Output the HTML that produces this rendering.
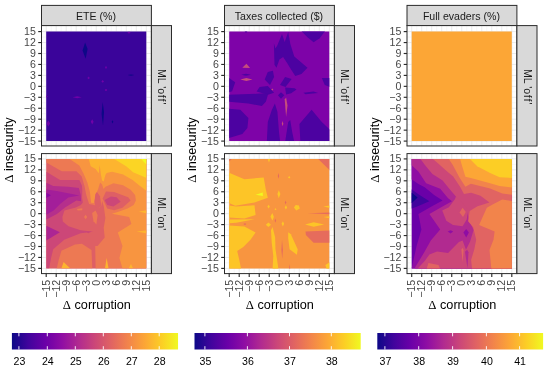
<!DOCTYPE html>
<html><head><meta charset="utf-8"><title>Contour panels</title>
<style>html,body{margin:0;padding:0;background:#fff}svg{display:block}</style></head>
<body>
<svg width="550" height="371" viewBox="0 0 550 371" font-family="'Liberation Sans', Arial, sans-serif">
<defs><linearGradient id="pl" x1="0" x2="1" y1="0" y2="0">
<stop offset="0" stop-color="#0D0887"/>
<stop offset="0.05" stop-color="#270692"/>
<stop offset="0.1" stop-color="#41049D"/>
<stop offset="0.15" stop-color="#5602A2"/>
<stop offset="0.2" stop-color="#6A00A8"/>
<stop offset="0.25" stop-color="#7C06A6"/>
<stop offset="0.3" stop-color="#8F0DA4"/>
<stop offset="0.35" stop-color="#A01B9A"/>
<stop offset="0.4" stop-color="#B12A90"/>
<stop offset="0.45" stop-color="#BE3884"/>
<stop offset="0.5" stop-color="#CC4778"/>
<stop offset="0.55" stop-color="#D6566D"/>
<stop offset="0.6" stop-color="#E16462"/>
<stop offset="0.65" stop-color="#EA7456"/>
<stop offset="0.7" stop-color="#F2844B"/>
<stop offset="0.75" stop-color="#F79540"/>
<stop offset="0.8" stop-color="#FCA636"/>
<stop offset="0.85" stop-color="#FCBA2E"/>
<stop offset="0.9" stop-color="#FCCE25"/>
<stop offset="0.95" stop-color="#F6E323"/>
<stop offset="1" stop-color="#F0F921"/>
</linearGradient></defs>
<rect width="550" height="371" fill="#fff"/>
<g transform="translate(0.00,0)">
<rect x="41.50" y="5.40" width="109.90" height="20.20" fill="#D9D9D9" stroke="#2B2B2B" stroke-width="1"/>
<text x="95.95" y="19.80" font-size="10.6" fill="#1A1A1A" text-anchor="middle">ETE (%)</text>
<rect x="41.50" y="25.60" width="109.90" height="120.40" fill="#fff"/>
<path d="M46.20 25.60V146.00 M41.50 31.60H151.40" stroke="#E3E3E3" stroke-width="0.7" fill="none"/><path d="M51.21 25.60V146.00 M41.50 37.08H151.40" stroke="#EDEDED" stroke-width="0.45" fill="none"/><path d="M56.21 25.60V146.00 M41.50 42.55H151.40" stroke="#E3E3E3" stroke-width="0.7" fill="none"/><path d="M61.22 25.60V146.00 M41.50 48.03H151.40" stroke="#EDEDED" stroke-width="0.45" fill="none"/><path d="M66.22 25.60V146.00 M41.50 53.50H151.40" stroke="#E3E3E3" stroke-width="0.7" fill="none"/><path d="M71.23 25.60V146.00 M41.50 58.98H151.40" stroke="#EDEDED" stroke-width="0.45" fill="none"/><path d="M76.23 25.60V146.00 M41.50 64.45H151.40" stroke="#E3E3E3" stroke-width="0.7" fill="none"/><path d="M81.24 25.60V146.00 M41.50 69.93H151.40" stroke="#EDEDED" stroke-width="0.45" fill="none"/><path d="M86.24 25.60V146.00 M41.50 75.40H151.40" stroke="#E3E3E3" stroke-width="0.7" fill="none"/><path d="M91.25 25.60V146.00 M41.50 80.88H151.40" stroke="#EDEDED" stroke-width="0.45" fill="none"/><path d="M96.25 25.60V146.00 M41.50 86.35H151.40" stroke="#E3E3E3" stroke-width="0.7" fill="none"/><path d="M101.26 25.60V146.00 M41.50 91.83H151.40" stroke="#EDEDED" stroke-width="0.45" fill="none"/><path d="M106.26 25.60V146.00 M41.50 97.30H151.40" stroke="#E3E3E3" stroke-width="0.7" fill="none"/><path d="M111.27 25.60V146.00 M41.50 102.78H151.40" stroke="#EDEDED" stroke-width="0.45" fill="none"/><path d="M116.27 25.60V146.00 M41.50 108.25H151.40" stroke="#E3E3E3" stroke-width="0.7" fill="none"/><path d="M121.28 25.60V146.00 M41.50 113.72H151.40" stroke="#EDEDED" stroke-width="0.45" fill="none"/><path d="M126.28 25.60V146.00 M41.50 119.20H151.40" stroke="#E3E3E3" stroke-width="0.7" fill="none"/><path d="M131.29 25.60V146.00 M41.50 124.68H151.40" stroke="#EDEDED" stroke-width="0.45" fill="none"/><path d="M136.29 25.60V146.00 M41.50 130.15H151.40" stroke="#E3E3E3" stroke-width="0.7" fill="none"/><path d="M141.30 25.60V146.00 M41.50 135.62H151.40" stroke="#EDEDED" stroke-width="0.45" fill="none"/><path d="M146.30 25.60V146.00 M41.50 141.10H151.40" stroke="#E3E3E3" stroke-width="0.7" fill="none"/>
<clipPath id="c00"><rect x="46.20" y="31.60" width="100.10" height="109.50"/></clipPath>
<g clip-path="url(#c00)">
<rect x="45.20" y="30.60" width="102.10" height="111.50" fill="#3A049A"/>
<path d="M85.1 42.5L87.6 49.0L85.6 58.8L82.6 50.5Z" fill="#0D0887"/>
<path d="M102.7 102.0L104.0 112.0L103.0 125.5L101.6 114.0Z" fill="#0D0887"/>
<path d="M127.6 75.1L131.0 74.4L134.4 75.1L131.0 75.8Z" fill="#0D0887"/>
<path d="M111.7 121.8L112.5 120.2L113.3 121.8L112.5 123.4Z" fill="#0D0887"/>
<path d="M127.4 32.6L129.0 31.4L130.6 32.6L129.0 33.8Z" fill="#7002A8"/>
<path d="M72.6 97.2L77.2 96.2L81.8 97.2L77.2 98.2Z" fill="#7002A8"/>
<path d="M46.5 123.5L48.3 120.5L50.1 123.5L48.3 126.5Z" fill="#7002A8"/>
<path d="M45.4 96.5L46.6 95.5L47.8 96.5L46.6 97.5Z" fill="#7002A8"/>
<path d="M90.8 121.8L92.2 119.2L93.6 121.8L92.2 124.4Z" fill="#7002A8"/>
<path d="M87.3 77.9L88.6 76.6L89.9 77.9L88.6 79.2Z" fill="#7002A8"/>
<path d="M101.4 81.4L102.7 80.1L104.0 81.4L102.7 82.7Z" fill="#7002A8"/>
<path d="M104.6 90.0L106.0 88.8L107.4 90.0L106.0 91.2Z" fill="#7002A8"/>
<path d="M105.0 67.4L106.0 65.8L107.0 67.4L106.0 69.0Z" fill="#7002A8"/>
</g>
<rect x="41.50" y="25.60" width="109.90" height="120.40" fill="none" stroke="#2B2B2B" stroke-width="1"/>
<rect x="151.40" y="25.60" width="20.10" height="120.40" fill="#D9D9D9" stroke="#2B2B2B" stroke-width="1"/>
<text transform="translate(158.05,69.00) rotate(90)" font-size="10.6" fill="#1A1A1A">ML 'o<tspan dx="0.5">f</tspan><tspan dx="1.1">f</tspan><tspan dx="1.1">'</tspan></text>
<path d="M38.20 31.60H41.50" stroke="#2B2B2B" stroke-width="1.15"/>
<text x="35.90" y="35.00" font-size="10.6" fill="#474747" text-anchor="end">15</text>
<path d="M38.20 42.55H41.50" stroke="#2B2B2B" stroke-width="1.15"/>
<text x="35.90" y="45.95" font-size="10.6" fill="#474747" text-anchor="end">12</text>
<path d="M38.20 53.50H41.50" stroke="#2B2B2B" stroke-width="1.15"/>
<text x="35.90" y="56.90" font-size="10.6" fill="#474747" text-anchor="end">9</text>
<path d="M38.20 64.45H41.50" stroke="#2B2B2B" stroke-width="1.15"/>
<text x="35.90" y="67.85" font-size="10.6" fill="#474747" text-anchor="end">6</text>
<path d="M38.20 75.40H41.50" stroke="#2B2B2B" stroke-width="1.15"/>
<text x="35.90" y="78.80" font-size="10.6" fill="#474747" text-anchor="end">3</text>
<path d="M38.20 86.35H41.50" stroke="#2B2B2B" stroke-width="1.15"/>
<text x="35.90" y="89.75" font-size="10.6" fill="#474747" text-anchor="end">0</text>
<path d="M38.20 97.30H41.50" stroke="#2B2B2B" stroke-width="1.15"/>
<text x="35.90" y="100.70" font-size="10.6" fill="#474747" text-anchor="end">−3</text>
<path d="M38.20 108.25H41.50" stroke="#2B2B2B" stroke-width="1.15"/>
<text x="35.90" y="111.65" font-size="10.6" fill="#474747" text-anchor="end">−6</text>
<path d="M38.20 119.20H41.50" stroke="#2B2B2B" stroke-width="1.15"/>
<text x="35.90" y="122.60" font-size="10.6" fill="#474747" text-anchor="end">−9</text>
<path d="M38.20 130.15H41.50" stroke="#2B2B2B" stroke-width="1.15"/>
<text x="35.90" y="133.55" font-size="10.6" fill="#474747" text-anchor="end">−12</text>
<path d="M38.20 141.10H41.50" stroke="#2B2B2B" stroke-width="1.15"/>
<text x="35.90" y="144.50" font-size="10.6" fill="#474747" text-anchor="end">−15</text>
<rect x="41.50" y="153.60" width="109.90" height="120.00" fill="#fff"/>
<path d="M46.20 153.60V273.60 M41.50 158.90H151.40" stroke="#E3E3E3" stroke-width="0.7" fill="none"/><path d="M51.21 153.60V273.60 M41.50 164.38H151.40" stroke="#EDEDED" stroke-width="0.45" fill="none"/><path d="M56.21 153.60V273.60 M41.50 169.85H151.40" stroke="#E3E3E3" stroke-width="0.7" fill="none"/><path d="M61.22 153.60V273.60 M41.50 175.32H151.40" stroke="#EDEDED" stroke-width="0.45" fill="none"/><path d="M66.22 153.60V273.60 M41.50 180.80H151.40" stroke="#E3E3E3" stroke-width="0.7" fill="none"/><path d="M71.23 153.60V273.60 M41.50 186.28H151.40" stroke="#EDEDED" stroke-width="0.45" fill="none"/><path d="M76.23 153.60V273.60 M41.50 191.75H151.40" stroke="#E3E3E3" stroke-width="0.7" fill="none"/><path d="M81.24 153.60V273.60 M41.50 197.22H151.40" stroke="#EDEDED" stroke-width="0.45" fill="none"/><path d="M86.24 153.60V273.60 M41.50 202.70H151.40" stroke="#E3E3E3" stroke-width="0.7" fill="none"/><path d="M91.25 153.60V273.60 M41.50 208.18H151.40" stroke="#EDEDED" stroke-width="0.45" fill="none"/><path d="M96.25 153.60V273.60 M41.50 213.65H151.40" stroke="#E3E3E3" stroke-width="0.7" fill="none"/><path d="M101.26 153.60V273.60 M41.50 219.12H151.40" stroke="#EDEDED" stroke-width="0.45" fill="none"/><path d="M106.26 153.60V273.60 M41.50 224.60H151.40" stroke="#E3E3E3" stroke-width="0.7" fill="none"/><path d="M111.27 153.60V273.60 M41.50 230.07H151.40" stroke="#EDEDED" stroke-width="0.45" fill="none"/><path d="M116.27 153.60V273.60 M41.50 235.55H151.40" stroke="#E3E3E3" stroke-width="0.7" fill="none"/><path d="M121.28 153.60V273.60 M41.50 241.02H151.40" stroke="#EDEDED" stroke-width="0.45" fill="none"/><path d="M126.28 153.60V273.60 M41.50 246.50H151.40" stroke="#E3E3E3" stroke-width="0.7" fill="none"/><path d="M131.29 153.60V273.60 M41.50 251.97H151.40" stroke="#EDEDED" stroke-width="0.45" fill="none"/><path d="M136.29 153.60V273.60 M41.50 257.45H151.40" stroke="#E3E3E3" stroke-width="0.7" fill="none"/><path d="M141.30 153.60V273.60 M41.50 262.92H151.40" stroke="#EDEDED" stroke-width="0.45" fill="none"/><path d="M146.30 153.60V273.60 M41.50 268.40H151.40" stroke="#E3E3E3" stroke-width="0.7" fill="none"/>
<clipPath id="c01"><rect x="46.20" y="158.90" width="100.10" height="109.50"/></clipPath>
<g clip-path="url(#c01)">
<rect x="45.20" y="157.90" width="102.10" height="111.50" fill="#DE5F65"/>
<path d="M46.3 171.7L60.1 179.9L79.3 179.9L81.9 185.4L82.3 190.7L82.1 197.8L82.8 202.5L80.9 204.9L75.8 207.4L64.4 210.6L62.4 217.1L62.8 221.4L68.5 226.3L80.7 230.2L93.1 231.8L80.7 233.2L64.2 239.7L58.7 244.6L53.2 249.3L51.2 257.5L49.1 268.5L46.3 268.5Z" fill="#CC4778"/>
<path d="M46.3 182.7L53.2 186.0L68.3 186.8L78.9 188.0L80.7 194.9L81.1 201.3L76.4 200.4L65.0 207.4L56.9 213.9L46.3 219.4Z" fill="#B52F8C"/>
<path d="M46.3 189.6L56.7 191.1L79.3 195.5L68.3 197.6L60.1 204.1L53.6 210.6L46.3 214.7Z" fill="#A31E9A"/>
<path d="M46.3 225.7L59.9 232.2L46.3 240.6Z" fill="#AC2694"/>
<path d="M46.3 192.7L50.8 195.3L46.3 198.0Z" fill="#8808A6"/>
<path d="M85.6 231.2L91.1 231.6L88.3 233.2Z" fill="#CC4778"/>
<path d="M46.3 158.9L146.7 158.9L146.7 268.5L95.6 268.5L95.2 246.1L97.6 246.1L104.7 237.5L103.7 227.7L105.4 218.0L103.7 205.9L102.1 200.8L101.5 205.9L98.6 208.2L94.4 204.9L89.1 204.1L86.2 194.7L84.6 186.4L81.7 176.6L76.4 171.3L61.8 171.3L46.3 162.6Z" fill="#ED7953"/>
<path d="M56.7 268.5L58.7 260.1L61.4 250.7L75.0 244.6L81.9 243.8L91.5 249.9L92.3 268.5Z" fill="#ED7953"/>
<path d="M84.0 216.9L85.6 214.7L87.2 216.9L85.6 219.2Z" fill="#ED7953"/>
<path d="M92.1 213.1L95.6 210.4L97.6 215.1L96.4 224.5L93.5 221.2Z" fill="#ED7953"/>
<path d="M77.0 209.0L82.3 208.2L82.3 210.2L77.7 210.6Z" fill="#ED7953"/>
<path d="M69.5 158.9L146.7 158.9L146.7 268.5L122.5 268.5L119.4 258.1L122.5 245.9L117.8 232.6L131.4 224.1L129.2 216.9L111.9 213.7L118.4 211.8L127.6 208.6L133.7 204.9L135.9 200.4L135.1 194.9L130.6 189.8L123.1 185.2L113.5 183.3L105.4 186.8L103.5 189.0L102.1 184.5L100.1 182.5L98.0 189.6L95.6 194.7L94.4 202.9L91.1 202.7L89.9 191.9L87.4 182.5L83.4 173.3L79.3 165.6Z" fill="#F89540"/>
<path d="M94.4 201.7L95.4 193.9L97.0 191.9L99.9 196.2L101.5 205.9L98.6 208.2L95.4 207.2Z" fill="#DE5F65"/>
<path d="M102.7 198.4L106.0 191.5L114.1 192.1L128.2 197.2L130.6 200.4L122.5 207.8L114.1 210.2L107.2 208.6Z" fill="#DE5F65"/>
<path d="M104.7 200.0L110.9 196.4L116.6 197.2L120.6 201.7L113.3 206.5L107.2 204.9Z" fill="#CC4778"/>
<path d="M88.7 158.9L90.7 166.2L95.6 169.1L97.6 171.7L98.8 173.3L99.7 165.0L100.9 174.4L102.1 180.5L103.7 181.5L105.4 175.0L106.6 173.1L112.1 171.7L123.1 174.4L132.6 179.9L139.4 185.4L146.7 191.1L146.7 158.9Z" fill="#FDB42F"/>
<path d="M146.7 210.2L138.8 211.6L146.7 213.5Z" fill="#FDB42F"/>
<path d="M146.7 230.2L136.7 231.6L146.7 233.4Z" fill="#FDB42F"/>
<path d="M61.4 268.5L63.6 262.1L70.3 268.5Z" fill="#FDB42F"/>
<path d="M105.0 268.5L106.6 257.9L108.6 268.5Z" fill="#FDB42F"/>
<path d="M128.6 268.5L131.0 264.0L133.1 268.5Z" fill="#FDB42F"/>
<path d="M114.1 158.9L126.5 166.6L133.1 172.3L146.7 178.0L146.7 158.9Z" fill="#FBD524"/>
<path d="M141.2 158.9L146.7 158.9L146.7 165.0Z" fill="#F0F921"/>
</g>
<rect x="41.50" y="153.60" width="109.90" height="120.00" fill="none" stroke="#2B2B2B" stroke-width="1"/>
<rect x="151.40" y="153.60" width="20.10" height="120.00" fill="#D9D9D9" stroke="#2B2B2B" stroke-width="1"/>
<text transform="translate(158.05,213.70) rotate(90)" font-size="10.6" fill="#1A1A1A" text-anchor="middle">ML 'on'</text>
<path d="M38.20 158.90H41.50" stroke="#2B2B2B" stroke-width="1.15"/>
<text x="35.90" y="162.30" font-size="10.6" fill="#474747" text-anchor="end">15</text>
<path d="M38.20 169.85H41.50" stroke="#2B2B2B" stroke-width="1.15"/>
<text x="35.90" y="173.25" font-size="10.6" fill="#474747" text-anchor="end">12</text>
<path d="M38.20 180.80H41.50" stroke="#2B2B2B" stroke-width="1.15"/>
<text x="35.90" y="184.20" font-size="10.6" fill="#474747" text-anchor="end">9</text>
<path d="M38.20 191.75H41.50" stroke="#2B2B2B" stroke-width="1.15"/>
<text x="35.90" y="195.15" font-size="10.6" fill="#474747" text-anchor="end">6</text>
<path d="M38.20 202.70H41.50" stroke="#2B2B2B" stroke-width="1.15"/>
<text x="35.90" y="206.10" font-size="10.6" fill="#474747" text-anchor="end">3</text>
<path d="M38.20 213.65H41.50" stroke="#2B2B2B" stroke-width="1.15"/>
<text x="35.90" y="217.05" font-size="10.6" fill="#474747" text-anchor="end">0</text>
<path d="M38.20 224.60H41.50" stroke="#2B2B2B" stroke-width="1.15"/>
<text x="35.90" y="228.00" font-size="10.6" fill="#474747" text-anchor="end">−3</text>
<path d="M38.20 235.55H41.50" stroke="#2B2B2B" stroke-width="1.15"/>
<text x="35.90" y="238.95" font-size="10.6" fill="#474747" text-anchor="end">−6</text>
<path d="M38.20 246.50H41.50" stroke="#2B2B2B" stroke-width="1.15"/>
<text x="35.90" y="249.90" font-size="10.6" fill="#474747" text-anchor="end">−9</text>
<path d="M38.20 257.45H41.50" stroke="#2B2B2B" stroke-width="1.15"/>
<text x="35.90" y="260.85" font-size="10.6" fill="#474747" text-anchor="end">−12</text>
<path d="M38.20 268.40H41.50" stroke="#2B2B2B" stroke-width="1.15"/>
<text x="35.90" y="271.80" font-size="10.6" fill="#474747" text-anchor="end">−15</text>
<path d="M46.20 273.60V277.10" stroke="#2B2B2B" stroke-width="1.15"/>
<text transform="translate(49.60,279.80) rotate(-90)" font-size="10.6" fill="#474747" text-anchor="end">−15</text>
<path d="M56.21 273.60V277.10" stroke="#2B2B2B" stroke-width="1.15"/>
<text transform="translate(59.61,279.80) rotate(-90)" font-size="10.6" fill="#474747" text-anchor="end">−12</text>
<path d="M66.22 273.60V277.10" stroke="#2B2B2B" stroke-width="1.15"/>
<text transform="translate(69.62,279.80) rotate(-90)" font-size="10.6" fill="#474747" text-anchor="end">−9</text>
<path d="M76.23 273.60V277.10" stroke="#2B2B2B" stroke-width="1.15"/>
<text transform="translate(79.63,279.80) rotate(-90)" font-size="10.6" fill="#474747" text-anchor="end">−6</text>
<path d="M86.24 273.60V277.10" stroke="#2B2B2B" stroke-width="1.15"/>
<text transform="translate(89.64,279.80) rotate(-90)" font-size="10.6" fill="#474747" text-anchor="end">−3</text>
<path d="M96.25 273.60V277.10" stroke="#2B2B2B" stroke-width="1.15"/>
<text transform="translate(99.65,279.80) rotate(-90)" font-size="10.6" fill="#474747" text-anchor="end">0</text>
<path d="M106.26 273.60V277.10" stroke="#2B2B2B" stroke-width="1.15"/>
<text transform="translate(109.66,279.80) rotate(-90)" font-size="10.6" fill="#474747" text-anchor="end">3</text>
<path d="M116.27 273.60V277.10" stroke="#2B2B2B" stroke-width="1.15"/>
<text transform="translate(119.67,279.80) rotate(-90)" font-size="10.6" fill="#474747" text-anchor="end">6</text>
<path d="M126.28 273.60V277.10" stroke="#2B2B2B" stroke-width="1.15"/>
<text transform="translate(129.68,279.80) rotate(-90)" font-size="10.6" fill="#474747" text-anchor="end">9</text>
<path d="M136.29 273.60V277.10" stroke="#2B2B2B" stroke-width="1.15"/>
<text transform="translate(139.69,279.80) rotate(-90)" font-size="10.6" fill="#474747" text-anchor="end">12</text>
<path d="M146.30 273.60V277.10" stroke="#2B2B2B" stroke-width="1.15"/>
<text transform="translate(149.70,279.80) rotate(-90)" font-size="10.6" fill="#474747" text-anchor="end">15</text>
<text x="96.85" y="308.50" font-size="12.7" fill="#000" text-anchor="middle"><tspan font-family="'Liberation Serif', serif">Δ</tspan> corruption</text>
<text transform="translate(13.20,150.10) rotate(-90)" font-size="12.7" fill="#000" text-anchor="middle"><tspan font-family="'Liberation Serif', serif">Δ</tspan> insecurity</text>
<rect x="11.90" y="333.0" width="166.15" height="16.5" fill="url(#pl)"/>
<path d="M18.90 333V336.3M18.90 346.2V349.5" stroke="#fff" stroke-width="0.9"/>
<text x="19.40" y="365.2" font-size="10.6" fill="#000" text-anchor="middle">23</text>
<path d="M47.30 333V336.3M47.30 346.2V349.5" stroke="#fff" stroke-width="0.9"/>
<text x="47.80" y="365.2" font-size="10.6" fill="#000" text-anchor="middle">24</text>
<path d="M75.30 333V336.3M75.30 346.2V349.5" stroke="#fff" stroke-width="0.9"/>
<text x="75.80" y="365.2" font-size="10.6" fill="#000" text-anchor="middle">25</text>
<path d="M103.30 333V336.3M103.30 346.2V349.5" stroke="#fff" stroke-width="0.9"/>
<text x="103.80" y="365.2" font-size="10.6" fill="#000" text-anchor="middle">26</text>
<path d="M131.30 333V336.3M131.30 346.2V349.5" stroke="#fff" stroke-width="0.9"/>
<text x="131.80" y="365.2" font-size="10.6" fill="#000" text-anchor="middle">27</text>
<path d="M159.20 333V336.3M159.20 346.2V349.5" stroke="#fff" stroke-width="0.9"/>
<text x="159.70" y="365.2" font-size="10.6" fill="#000" text-anchor="middle">28</text>
</g>
<g transform="translate(183.00,0)">
<rect x="41.50" y="5.40" width="109.90" height="20.20" fill="#D9D9D9" stroke="#2B2B2B" stroke-width="1"/>
<text x="95.95" y="19.80" font-size="10.6" fill="#1A1A1A" text-anchor="middle">Taxes collected ($)</text>
<rect x="41.50" y="25.60" width="109.90" height="120.40" fill="#fff"/>
<path d="M46.20 25.60V146.00 M41.50 31.60H151.40" stroke="#E3E3E3" stroke-width="0.7" fill="none"/><path d="M51.21 25.60V146.00 M41.50 37.08H151.40" stroke="#EDEDED" stroke-width="0.45" fill="none"/><path d="M56.21 25.60V146.00 M41.50 42.55H151.40" stroke="#E3E3E3" stroke-width="0.7" fill="none"/><path d="M61.22 25.60V146.00 M41.50 48.03H151.40" stroke="#EDEDED" stroke-width="0.45" fill="none"/><path d="M66.22 25.60V146.00 M41.50 53.50H151.40" stroke="#E3E3E3" stroke-width="0.7" fill="none"/><path d="M71.23 25.60V146.00 M41.50 58.98H151.40" stroke="#EDEDED" stroke-width="0.45" fill="none"/><path d="M76.23 25.60V146.00 M41.50 64.45H151.40" stroke="#E3E3E3" stroke-width="0.7" fill="none"/><path d="M81.24 25.60V146.00 M41.50 69.93H151.40" stroke="#EDEDED" stroke-width="0.45" fill="none"/><path d="M86.24 25.60V146.00 M41.50 75.40H151.40" stroke="#E3E3E3" stroke-width="0.7" fill="none"/><path d="M91.25 25.60V146.00 M41.50 80.88H151.40" stroke="#EDEDED" stroke-width="0.45" fill="none"/><path d="M96.25 25.60V146.00 M41.50 86.35H151.40" stroke="#E3E3E3" stroke-width="0.7" fill="none"/><path d="M101.26 25.60V146.00 M41.50 91.83H151.40" stroke="#EDEDED" stroke-width="0.45" fill="none"/><path d="M106.26 25.60V146.00 M41.50 97.30H151.40" stroke="#E3E3E3" stroke-width="0.7" fill="none"/><path d="M111.27 25.60V146.00 M41.50 102.78H151.40" stroke="#EDEDED" stroke-width="0.45" fill="none"/><path d="M116.27 25.60V146.00 M41.50 108.25H151.40" stroke="#E3E3E3" stroke-width="0.7" fill="none"/><path d="M121.28 25.60V146.00 M41.50 113.72H151.40" stroke="#EDEDED" stroke-width="0.45" fill="none"/><path d="M126.28 25.60V146.00 M41.50 119.20H151.40" stroke="#E3E3E3" stroke-width="0.7" fill="none"/><path d="M131.29 25.60V146.00 M41.50 124.68H151.40" stroke="#EDEDED" stroke-width="0.45" fill="none"/><path d="M136.29 25.60V146.00 M41.50 130.15H151.40" stroke="#E3E3E3" stroke-width="0.7" fill="none"/><path d="M141.30 25.60V146.00 M41.50 135.62H151.40" stroke="#EDEDED" stroke-width="0.45" fill="none"/><path d="M146.30 25.60V146.00 M41.50 141.10H151.40" stroke="#E3E3E3" stroke-width="0.7" fill="none"/>
<clipPath id="c10"><rect x="46.20" y="31.60" width="100.10" height="109.50"/></clipPath>
<g clip-path="url(#c10)">
<rect x="45.20" y="30.60" width="102.10" height="111.50" fill="#7E03A8"/>
<path d="M117.4 30.1L142.8 30.1L136.7 38.2L130.6 42.3L124.5 37.2Z" fill="#4C02A1"/>
<path d="M61.0 30.1L65.0 30.1L63.0 33.3Z" fill="#4C02A1"/>
<path d="M90.9 43.3L92.5 48.4L94.4 45.3L99.0 34.1L101.7 41.9L105.2 32.1L107.4 44.3L111.3 56.5L124.5 67.8L118.4 73.9L112.3 75.9L108.2 69.8L104.1 63.1L100.1 57.0L96.4 59.6L93.5 67.8L91.5 64.7Z" fill="#4C02A1"/>
<path d="M84.8 72.0L89.9 70.8L91.1 76.9L87.0 85.1L81.7 79.4Z" fill="#4C02A1"/>
<path d="M45.1 77.3L46.1 77.9L52.2 82.2L49.1 91.2L45.1 92.4Z" fill="#4C02A1"/>
<path d="M58.3 74.7L63.0 73.7L67.9 74.7L63.0 75.7Z" fill="#4C02A1"/>
<path d="M102.1 76.9L108.6 79.0L102.5 87.1L97.0 85.1Z" fill="#4C02A1"/>
<path d="M73.6 91.6L76.6 87.1L84.8 86.1L91.1 92.8L85.0 94.8Z" fill="#4C02A1"/>
<path d="M138.8 77.9L147.3 77.9L147.3 87.1L141.8 85.1Z" fill="#4C02A1"/>
<path d="M120.4 92.8L130.6 91.6L135.1 93.0L122.5 94.2Z" fill="#4C02A1"/>
<path d="M102.1 87.5L111.5 88.3L113.5 89.5L108.2 93.2L103.1 94.4Z" fill="#4C02A1"/>
<path d="M95.0 95.2L98.0 92.2L101.3 95.2L98.0 98.7Z" fill="#4C02A1"/>
<path d="M45.1 94.8L73.6 93.8L85.4 93.0L83.0 101.6L78.9 106.0L65.4 103.6L45.1 101.6Z" fill="#4C02A1"/>
<path d="M45.1 108.7L57.3 109.7L65.4 117.9L64.4 128.0L59.3 134.1L45.1 138.2Z" fill="#4C02A1"/>
<path d="M83.8 142.1L84.8 121.9L88.9 109.7L91.9 103.6L94.4 111.7L96.0 132.1L97.2 142.1Z" fill="#4C02A1"/>
<path d="M102.1 142.1L105.2 121.9L107.2 119.9L109.2 132.1L111.3 142.1Z" fill="#4C02A1"/>
<path d="M117.4 142.1L116.4 124.0L128.6 109.7L138.8 121.9L147.3 130.1L147.3 142.1Z" fill="#4C02A1"/>
<path d="M59.3 67.8L63.4 63.7L67.1 68.0Z" fill="#C54E7C"/>
<path d="M57.3 79.4L63.4 77.9L69.5 79.4L63.4 81.0Z" fill="#C54E7C"/>
<path d="M88.3 89.5L89.3 88.5L90.3 89.5L89.3 90.6Z" fill="#C54E7C"/>
<path d="M101.7 99.5L103.1 97.5L104.5 105.6L103.1 116.8Z" fill="#C54E7C"/>
<path d="M98.8 123.8L99.7 120.9L100.3 123.8L99.7 126.2Z" fill="#C54E7C"/>
</g>
<rect x="41.50" y="25.60" width="109.90" height="120.40" fill="none" stroke="#2B2B2B" stroke-width="1"/>
<rect x="151.40" y="25.60" width="20.10" height="120.40" fill="#D9D9D9" stroke="#2B2B2B" stroke-width="1"/>
<text transform="translate(158.05,69.00) rotate(90)" font-size="10.6" fill="#1A1A1A">ML 'o<tspan dx="0.5">f</tspan><tspan dx="1.1">f</tspan><tspan dx="1.1">'</tspan></text>
<path d="M38.20 31.60H41.50" stroke="#2B2B2B" stroke-width="1.15"/>
<text x="35.90" y="35.00" font-size="10.6" fill="#474747" text-anchor="end">15</text>
<path d="M38.20 42.55H41.50" stroke="#2B2B2B" stroke-width="1.15"/>
<text x="35.90" y="45.95" font-size="10.6" fill="#474747" text-anchor="end">12</text>
<path d="M38.20 53.50H41.50" stroke="#2B2B2B" stroke-width="1.15"/>
<text x="35.90" y="56.90" font-size="10.6" fill="#474747" text-anchor="end">9</text>
<path d="M38.20 64.45H41.50" stroke="#2B2B2B" stroke-width="1.15"/>
<text x="35.90" y="67.85" font-size="10.6" fill="#474747" text-anchor="end">6</text>
<path d="M38.20 75.40H41.50" stroke="#2B2B2B" stroke-width="1.15"/>
<text x="35.90" y="78.80" font-size="10.6" fill="#474747" text-anchor="end">3</text>
<path d="M38.20 86.35H41.50" stroke="#2B2B2B" stroke-width="1.15"/>
<text x="35.90" y="89.75" font-size="10.6" fill="#474747" text-anchor="end">0</text>
<path d="M38.20 97.30H41.50" stroke="#2B2B2B" stroke-width="1.15"/>
<text x="35.90" y="100.70" font-size="10.6" fill="#474747" text-anchor="end">−3</text>
<path d="M38.20 108.25H41.50" stroke="#2B2B2B" stroke-width="1.15"/>
<text x="35.90" y="111.65" font-size="10.6" fill="#474747" text-anchor="end">−6</text>
<path d="M38.20 119.20H41.50" stroke="#2B2B2B" stroke-width="1.15"/>
<text x="35.90" y="122.60" font-size="10.6" fill="#474747" text-anchor="end">−9</text>
<path d="M38.20 130.15H41.50" stroke="#2B2B2B" stroke-width="1.15"/>
<text x="35.90" y="133.55" font-size="10.6" fill="#474747" text-anchor="end">−12</text>
<path d="M38.20 141.10H41.50" stroke="#2B2B2B" stroke-width="1.15"/>
<text x="35.90" y="144.50" font-size="10.6" fill="#474747" text-anchor="end">−15</text>
<rect x="41.50" y="153.60" width="109.90" height="120.00" fill="#fff"/>
<path d="M46.20 153.60V273.60 M41.50 158.90H151.40" stroke="#E3E3E3" stroke-width="0.7" fill="none"/><path d="M51.21 153.60V273.60 M41.50 164.38H151.40" stroke="#EDEDED" stroke-width="0.45" fill="none"/><path d="M56.21 153.60V273.60 M41.50 169.85H151.40" stroke="#E3E3E3" stroke-width="0.7" fill="none"/><path d="M61.22 153.60V273.60 M41.50 175.32H151.40" stroke="#EDEDED" stroke-width="0.45" fill="none"/><path d="M66.22 153.60V273.60 M41.50 180.80H151.40" stroke="#E3E3E3" stroke-width="0.7" fill="none"/><path d="M71.23 153.60V273.60 M41.50 186.28H151.40" stroke="#EDEDED" stroke-width="0.45" fill="none"/><path d="M76.23 153.60V273.60 M41.50 191.75H151.40" stroke="#E3E3E3" stroke-width="0.7" fill="none"/><path d="M81.24 153.60V273.60 M41.50 197.22H151.40" stroke="#EDEDED" stroke-width="0.45" fill="none"/><path d="M86.24 153.60V273.60 M41.50 202.70H151.40" stroke="#E3E3E3" stroke-width="0.7" fill="none"/><path d="M91.25 153.60V273.60 M41.50 208.18H151.40" stroke="#EDEDED" stroke-width="0.45" fill="none"/><path d="M96.25 153.60V273.60 M41.50 213.65H151.40" stroke="#E3E3E3" stroke-width="0.7" fill="none"/><path d="M101.26 153.60V273.60 M41.50 219.12H151.40" stroke="#EDEDED" stroke-width="0.45" fill="none"/><path d="M106.26 153.60V273.60 M41.50 224.60H151.40" stroke="#E3E3E3" stroke-width="0.7" fill="none"/><path d="M111.27 153.60V273.60 M41.50 230.07H151.40" stroke="#EDEDED" stroke-width="0.45" fill="none"/><path d="M116.27 153.60V273.60 M41.50 235.55H151.40" stroke="#E3E3E3" stroke-width="0.7" fill="none"/><path d="M121.28 153.60V273.60 M41.50 241.02H151.40" stroke="#EDEDED" stroke-width="0.45" fill="none"/><path d="M126.28 153.60V273.60 M41.50 246.50H151.40" stroke="#E3E3E3" stroke-width="0.7" fill="none"/><path d="M131.29 153.60V273.60 M41.50 251.97H151.40" stroke="#EDEDED" stroke-width="0.45" fill="none"/><path d="M136.29 153.60V273.60 M41.50 257.45H151.40" stroke="#E3E3E3" stroke-width="0.7" fill="none"/><path d="M141.30 153.60V273.60 M41.50 262.92H151.40" stroke="#EDEDED" stroke-width="0.45" fill="none"/><path d="M146.30 153.60V273.60 M41.50 268.40H151.40" stroke="#E3E3E3" stroke-width="0.7" fill="none"/>
<clipPath id="c11"><rect x="46.20" y="158.90" width="100.10" height="109.50"/></clipPath>
<g clip-path="url(#c11)">
<rect x="45.20" y="157.90" width="102.10" height="111.50" fill="#F89540"/>
<path d="M45.1 158.1L49.6 158.1L45.1 162.6Z" fill="#E66C5C"/>
<path d="M134.3 158.1L147.3 158.1L147.3 170.7Z" fill="#E66C5C"/>
<path d="M45.1 172.3L46.1 172.7L61.4 179.3L80.7 177.4L82.8 189.6L84.8 197.8L71.5 202.5L52.2 205.7L45.1 202.5Z" fill="#FDC527"/>
<path d="M45.1 205.3L53.2 206.5L71.5 205.3L72.6 215.1L61.4 218.4L45.1 217.5Z" fill="#FDC527"/>
<path d="M45.1 219.6L71.5 219.2L53.2 222.8L45.1 223.2Z" fill="#FDC527"/>
<path d="M45.1 225.5L61.4 226.5L72.6 232.6L67.5 239.7L60.3 246.9L54.2 250.9L56.3 260.1L58.3 270.1L45.1 270.1Z" fill="#FDC527"/>
<path d="M72.6 194.7L79.7 192.5L79.9 196.0Z" fill="#F0F921"/>
<path d="M60.3 223.9L62.0 223.2L63.4 224.1L62.0 224.9Z" fill="#E66C5C"/>
<path d="M84.4 158.1L87.4 158.1L86.0 162.6Z" fill="#FDC527"/>
<path d="M94.4 194.1L95.8 190.3L97.4 194.1L95.8 198.2Z" fill="#FDC527"/>
<path d="M101.7 207.4L102.9 205.3L104.1 207.4L102.9 209.4Z" fill="#FDC527"/>
<path d="M110.9 207.4L112.7 204.9L115.9 205.5L116.8 208.6L113.3 210.4Z" fill="#FDC527"/>
<path d="M84.4 206.5L85.6 204.7L86.8 206.5L85.6 208.4Z" fill="#FDC527"/>
<path d="M87.4 216.7L89.3 212.9L90.9 216.7L89.5 220.6Z" fill="#FDC527"/>
<path d="M82.8 224.7L85.4 222.4L88.0 224.7L85.4 226.9Z" fill="#FDC527"/>
<path d="M98.6 223.7L99.9 221.2L101.1 223.7L99.9 226.5Z" fill="#FDC527"/>
<path d="M105.0 177.4L106.2 176.0L107.4 177.4L106.2 178.6Z" fill="#FDC527"/>
<path d="M91.5 209.0L92.7 208.2L93.5 209.4L92.3 210.2Z" fill="#FDC527"/>
<path d="M94.8 176.0L95.4 172.9L96.2 176.0L95.4 178.8Z" fill="#E66C5C"/>
<path d="M101.9 202.5L102.5 200.4L103.3 202.5L102.5 204.5Z" fill="#E66C5C"/>
<path d="M91.7 220.8L92.3 218.4L93.1 220.8L92.3 222.8Z" fill="#E66C5C"/>
<path d="M88.0 230.2L89.5 226.9L92.1 237.1L92.5 249.3L95.6 270.1L89.5 270.1L90.3 256.0L88.7 242.4Z" fill="#FDC527"/>
<path d="M105.2 232.2L107.8 234.2L114.7 249.3L113.9 254.8L106.6 249.3L105.2 238.3Z" fill="#FDC527"/>
<path d="M98.4 249.7L99.0 239.5L99.9 249.7L99.2 258.9Z" fill="#E66C5C"/>
<path d="M106.0 270.1L106.6 264.0L107.4 270.1Z" fill="#E66C5C"/>
<path d="M124.5 213.3L147.3 212.5L147.3 214.3Z" fill="#E66C5C"/>
<path d="M122.5 231.6L147.3 230.6L147.3 242.8L130.6 242.8L122.9 235.1Z" fill="#E66C5C"/>
<path d="M122.1 224.5L130.6 222.2L141.2 224.5L130.6 226.7Z" fill="#FDC527"/>
<path d="M140.4 206.5L147.3 205.5L147.3 208.0Z" fill="#FDC527"/>
<path d="M140.4 217.1L147.3 216.1L147.3 218.4Z" fill="#FDC527"/>
<path d="M142.4 265.0L147.3 261.9L147.3 270.1L143.9 270.1Z" fill="#FDC527"/>
</g>
<rect x="41.50" y="153.60" width="109.90" height="120.00" fill="none" stroke="#2B2B2B" stroke-width="1"/>
<rect x="151.40" y="153.60" width="20.10" height="120.00" fill="#D9D9D9" stroke="#2B2B2B" stroke-width="1"/>
<text transform="translate(158.05,213.70) rotate(90)" font-size="10.6" fill="#1A1A1A" text-anchor="middle">ML 'on'</text>
<path d="M38.20 158.90H41.50" stroke="#2B2B2B" stroke-width="1.15"/>
<text x="35.90" y="162.30" font-size="10.6" fill="#474747" text-anchor="end">15</text>
<path d="M38.20 169.85H41.50" stroke="#2B2B2B" stroke-width="1.15"/>
<text x="35.90" y="173.25" font-size="10.6" fill="#474747" text-anchor="end">12</text>
<path d="M38.20 180.80H41.50" stroke="#2B2B2B" stroke-width="1.15"/>
<text x="35.90" y="184.20" font-size="10.6" fill="#474747" text-anchor="end">9</text>
<path d="M38.20 191.75H41.50" stroke="#2B2B2B" stroke-width="1.15"/>
<text x="35.90" y="195.15" font-size="10.6" fill="#474747" text-anchor="end">6</text>
<path d="M38.20 202.70H41.50" stroke="#2B2B2B" stroke-width="1.15"/>
<text x="35.90" y="206.10" font-size="10.6" fill="#474747" text-anchor="end">3</text>
<path d="M38.20 213.65H41.50" stroke="#2B2B2B" stroke-width="1.15"/>
<text x="35.90" y="217.05" font-size="10.6" fill="#474747" text-anchor="end">0</text>
<path d="M38.20 224.60H41.50" stroke="#2B2B2B" stroke-width="1.15"/>
<text x="35.90" y="228.00" font-size="10.6" fill="#474747" text-anchor="end">−3</text>
<path d="M38.20 235.55H41.50" stroke="#2B2B2B" stroke-width="1.15"/>
<text x="35.90" y="238.95" font-size="10.6" fill="#474747" text-anchor="end">−6</text>
<path d="M38.20 246.50H41.50" stroke="#2B2B2B" stroke-width="1.15"/>
<text x="35.90" y="249.90" font-size="10.6" fill="#474747" text-anchor="end">−9</text>
<path d="M38.20 257.45H41.50" stroke="#2B2B2B" stroke-width="1.15"/>
<text x="35.90" y="260.85" font-size="10.6" fill="#474747" text-anchor="end">−12</text>
<path d="M38.20 268.40H41.50" stroke="#2B2B2B" stroke-width="1.15"/>
<text x="35.90" y="271.80" font-size="10.6" fill="#474747" text-anchor="end">−15</text>
<path d="M46.20 273.60V277.10" stroke="#2B2B2B" stroke-width="1.15"/>
<text transform="translate(49.60,279.80) rotate(-90)" font-size="10.6" fill="#474747" text-anchor="end">−15</text>
<path d="M56.21 273.60V277.10" stroke="#2B2B2B" stroke-width="1.15"/>
<text transform="translate(59.61,279.80) rotate(-90)" font-size="10.6" fill="#474747" text-anchor="end">−12</text>
<path d="M66.22 273.60V277.10" stroke="#2B2B2B" stroke-width="1.15"/>
<text transform="translate(69.62,279.80) rotate(-90)" font-size="10.6" fill="#474747" text-anchor="end">−9</text>
<path d="M76.23 273.60V277.10" stroke="#2B2B2B" stroke-width="1.15"/>
<text transform="translate(79.63,279.80) rotate(-90)" font-size="10.6" fill="#474747" text-anchor="end">−6</text>
<path d="M86.24 273.60V277.10" stroke="#2B2B2B" stroke-width="1.15"/>
<text transform="translate(89.64,279.80) rotate(-90)" font-size="10.6" fill="#474747" text-anchor="end">−3</text>
<path d="M96.25 273.60V277.10" stroke="#2B2B2B" stroke-width="1.15"/>
<text transform="translate(99.65,279.80) rotate(-90)" font-size="10.6" fill="#474747" text-anchor="end">0</text>
<path d="M106.26 273.60V277.10" stroke="#2B2B2B" stroke-width="1.15"/>
<text transform="translate(109.66,279.80) rotate(-90)" font-size="10.6" fill="#474747" text-anchor="end">3</text>
<path d="M116.27 273.60V277.10" stroke="#2B2B2B" stroke-width="1.15"/>
<text transform="translate(119.67,279.80) rotate(-90)" font-size="10.6" fill="#474747" text-anchor="end">6</text>
<path d="M126.28 273.60V277.10" stroke="#2B2B2B" stroke-width="1.15"/>
<text transform="translate(129.68,279.80) rotate(-90)" font-size="10.6" fill="#474747" text-anchor="end">9</text>
<path d="M136.29 273.60V277.10" stroke="#2B2B2B" stroke-width="1.15"/>
<text transform="translate(139.69,279.80) rotate(-90)" font-size="10.6" fill="#474747" text-anchor="end">12</text>
<path d="M146.30 273.60V277.10" stroke="#2B2B2B" stroke-width="1.15"/>
<text transform="translate(149.70,279.80) rotate(-90)" font-size="10.6" fill="#474747" text-anchor="end">15</text>
<text x="96.85" y="308.50" font-size="12.7" fill="#000" text-anchor="middle"><tspan font-family="'Liberation Serif', serif">Δ</tspan> corruption</text>
<text transform="translate(13.20,150.10) rotate(-90)" font-size="12.7" fill="#000" text-anchor="middle"><tspan font-family="'Liberation Serif', serif">Δ</tspan> insecurity</text>
<rect x="11.50" y="333.0" width="166.20" height="16.5" fill="url(#pl)"/>
<path d="M21.90 333V336.3M21.90 346.2V349.5" stroke="#fff" stroke-width="0.9"/>
<text x="22.40" y="365.2" font-size="10.6" fill="#000" text-anchor="middle">35</text>
<path d="M64.40 333V336.3M64.40 346.2V349.5" stroke="#fff" stroke-width="0.9"/>
<text x="64.90" y="365.2" font-size="10.6" fill="#000" text-anchor="middle">36</text>
<path d="M106.50 333V336.3M106.50 346.2V349.5" stroke="#fff" stroke-width="0.9"/>
<text x="107.00" y="365.2" font-size="10.6" fill="#000" text-anchor="middle">37</text>
<path d="M148.30 333V336.3M148.30 346.2V349.5" stroke="#fff" stroke-width="0.9"/>
<text x="148.80" y="365.2" font-size="10.6" fill="#000" text-anchor="middle">38</text>
</g>
<g transform="translate(365.50,0)">
<rect x="41.50" y="5.40" width="109.90" height="20.20" fill="#D9D9D9" stroke="#2B2B2B" stroke-width="1"/>
<text x="95.95" y="19.80" font-size="10.6" fill="#1A1A1A" text-anchor="middle">Full evaders (%)</text>
<rect x="41.50" y="25.60" width="109.90" height="120.40" fill="#fff"/>
<path d="M46.20 25.60V146.00 M41.50 31.60H151.40" stroke="#E3E3E3" stroke-width="0.7" fill="none"/><path d="M51.21 25.60V146.00 M41.50 37.08H151.40" stroke="#EDEDED" stroke-width="0.45" fill="none"/><path d="M56.21 25.60V146.00 M41.50 42.55H151.40" stroke="#E3E3E3" stroke-width="0.7" fill="none"/><path d="M61.22 25.60V146.00 M41.50 48.03H151.40" stroke="#EDEDED" stroke-width="0.45" fill="none"/><path d="M66.22 25.60V146.00 M41.50 53.50H151.40" stroke="#E3E3E3" stroke-width="0.7" fill="none"/><path d="M71.23 25.60V146.00 M41.50 58.98H151.40" stroke="#EDEDED" stroke-width="0.45" fill="none"/><path d="M76.23 25.60V146.00 M41.50 64.45H151.40" stroke="#E3E3E3" stroke-width="0.7" fill="none"/><path d="M81.24 25.60V146.00 M41.50 69.93H151.40" stroke="#EDEDED" stroke-width="0.45" fill="none"/><path d="M86.24 25.60V146.00 M41.50 75.40H151.40" stroke="#E3E3E3" stroke-width="0.7" fill="none"/><path d="M91.25 25.60V146.00 M41.50 80.88H151.40" stroke="#EDEDED" stroke-width="0.45" fill="none"/><path d="M96.25 25.60V146.00 M41.50 86.35H151.40" stroke="#E3E3E3" stroke-width="0.7" fill="none"/><path d="M101.26 25.60V146.00 M41.50 91.83H151.40" stroke="#EDEDED" stroke-width="0.45" fill="none"/><path d="M106.26 25.60V146.00 M41.50 97.30H151.40" stroke="#E3E3E3" stroke-width="0.7" fill="none"/><path d="M111.27 25.60V146.00 M41.50 102.78H151.40" stroke="#EDEDED" stroke-width="0.45" fill="none"/><path d="M116.27 25.60V146.00 M41.50 108.25H151.40" stroke="#E3E3E3" stroke-width="0.7" fill="none"/><path d="M121.28 25.60V146.00 M41.50 113.72H151.40" stroke="#EDEDED" stroke-width="0.45" fill="none"/><path d="M126.28 25.60V146.00 M41.50 119.20H151.40" stroke="#E3E3E3" stroke-width="0.7" fill="none"/><path d="M131.29 25.60V146.00 M41.50 124.68H151.40" stroke="#EDEDED" stroke-width="0.45" fill="none"/><path d="M136.29 25.60V146.00 M41.50 130.15H151.40" stroke="#E3E3E3" stroke-width="0.7" fill="none"/><path d="M141.30 25.60V146.00 M41.50 135.62H151.40" stroke="#EDEDED" stroke-width="0.45" fill="none"/><path d="M146.30 25.60V146.00 M41.50 141.10H151.40" stroke="#E3E3E3" stroke-width="0.7" fill="none"/>
<clipPath id="c20"><rect x="46.20" y="31.60" width="100.10" height="109.50"/></clipPath>
<g clip-path="url(#c20)">
<rect x="45.20" y="30.60" width="102.10" height="111.50" fill="#FCA636"/>
</g>
<rect x="41.50" y="25.60" width="109.90" height="120.40" fill="none" stroke="#2B2B2B" stroke-width="1"/>
<rect x="151.40" y="25.60" width="20.10" height="120.40" fill="#D9D9D9" stroke="#2B2B2B" stroke-width="1"/>
<text transform="translate(158.05,69.00) rotate(90)" font-size="10.6" fill="#1A1A1A">ML 'o<tspan dx="0.5">f</tspan><tspan dx="1.1">f</tspan><tspan dx="1.1">'</tspan></text>
<path d="M38.20 31.60H41.50" stroke="#2B2B2B" stroke-width="1.15"/>
<text x="35.90" y="35.00" font-size="10.6" fill="#474747" text-anchor="end">15</text>
<path d="M38.20 42.55H41.50" stroke="#2B2B2B" stroke-width="1.15"/>
<text x="35.90" y="45.95" font-size="10.6" fill="#474747" text-anchor="end">12</text>
<path d="M38.20 53.50H41.50" stroke="#2B2B2B" stroke-width="1.15"/>
<text x="35.90" y="56.90" font-size="10.6" fill="#474747" text-anchor="end">9</text>
<path d="M38.20 64.45H41.50" stroke="#2B2B2B" stroke-width="1.15"/>
<text x="35.90" y="67.85" font-size="10.6" fill="#474747" text-anchor="end">6</text>
<path d="M38.20 75.40H41.50" stroke="#2B2B2B" stroke-width="1.15"/>
<text x="35.90" y="78.80" font-size="10.6" fill="#474747" text-anchor="end">3</text>
<path d="M38.20 86.35H41.50" stroke="#2B2B2B" stroke-width="1.15"/>
<text x="35.90" y="89.75" font-size="10.6" fill="#474747" text-anchor="end">0</text>
<path d="M38.20 97.30H41.50" stroke="#2B2B2B" stroke-width="1.15"/>
<text x="35.90" y="100.70" font-size="10.6" fill="#474747" text-anchor="end">−3</text>
<path d="M38.20 108.25H41.50" stroke="#2B2B2B" stroke-width="1.15"/>
<text x="35.90" y="111.65" font-size="10.6" fill="#474747" text-anchor="end">−6</text>
<path d="M38.20 119.20H41.50" stroke="#2B2B2B" stroke-width="1.15"/>
<text x="35.90" y="122.60" font-size="10.6" fill="#474747" text-anchor="end">−9</text>
<path d="M38.20 130.15H41.50" stroke="#2B2B2B" stroke-width="1.15"/>
<text x="35.90" y="133.55" font-size="10.6" fill="#474747" text-anchor="end">−12</text>
<path d="M38.20 141.10H41.50" stroke="#2B2B2B" stroke-width="1.15"/>
<text x="35.90" y="144.50" font-size="10.6" fill="#474747" text-anchor="end">−15</text>
<rect x="41.50" y="153.60" width="109.90" height="120.00" fill="#fff"/>
<path d="M46.20 153.60V273.60 M41.50 158.90H151.40" stroke="#E3E3E3" stroke-width="0.7" fill="none"/><path d="M51.21 153.60V273.60 M41.50 164.38H151.40" stroke="#EDEDED" stroke-width="0.45" fill="none"/><path d="M56.21 153.60V273.60 M41.50 169.85H151.40" stroke="#E3E3E3" stroke-width="0.7" fill="none"/><path d="M61.22 153.60V273.60 M41.50 175.32H151.40" stroke="#EDEDED" stroke-width="0.45" fill="none"/><path d="M66.22 153.60V273.60 M41.50 180.80H151.40" stroke="#E3E3E3" stroke-width="0.7" fill="none"/><path d="M71.23 153.60V273.60 M41.50 186.28H151.40" stroke="#EDEDED" stroke-width="0.45" fill="none"/><path d="M76.23 153.60V273.60 M41.50 191.75H151.40" stroke="#E3E3E3" stroke-width="0.7" fill="none"/><path d="M81.24 153.60V273.60 M41.50 197.22H151.40" stroke="#EDEDED" stroke-width="0.45" fill="none"/><path d="M86.24 153.60V273.60 M41.50 202.70H151.40" stroke="#E3E3E3" stroke-width="0.7" fill="none"/><path d="M91.25 153.60V273.60 M41.50 208.18H151.40" stroke="#EDEDED" stroke-width="0.45" fill="none"/><path d="M96.25 153.60V273.60 M41.50 213.65H151.40" stroke="#E3E3E3" stroke-width="0.7" fill="none"/><path d="M101.26 153.60V273.60 M41.50 219.12H151.40" stroke="#EDEDED" stroke-width="0.45" fill="none"/><path d="M106.26 153.60V273.60 M41.50 224.60H151.40" stroke="#E3E3E3" stroke-width="0.7" fill="none"/><path d="M111.27 153.60V273.60 M41.50 230.07H151.40" stroke="#EDEDED" stroke-width="0.45" fill="none"/><path d="M116.27 153.60V273.60 M41.50 235.55H151.40" stroke="#E3E3E3" stroke-width="0.7" fill="none"/><path d="M121.28 153.60V273.60 M41.50 241.02H151.40" stroke="#EDEDED" stroke-width="0.45" fill="none"/><path d="M126.28 153.60V273.60 M41.50 246.50H151.40" stroke="#E3E3E3" stroke-width="0.7" fill="none"/><path d="M131.29 153.60V273.60 M41.50 251.97H151.40" stroke="#EDEDED" stroke-width="0.45" fill="none"/><path d="M136.29 153.60V273.60 M41.50 257.45H151.40" stroke="#E3E3E3" stroke-width="0.7" fill="none"/><path d="M141.30 153.60V273.60 M41.50 262.92H151.40" stroke="#EDEDED" stroke-width="0.45" fill="none"/><path d="M146.30 153.60V273.60 M41.50 268.40H151.40" stroke="#E3E3E3" stroke-width="0.7" fill="none"/>
<clipPath id="c21"><rect x="46.20" y="158.90" width="100.10" height="109.50"/></clipPath>
<g clip-path="url(#c21)">
<rect x="45.20" y="157.90" width="102.10" height="111.50" fill="#6A00A8"/>
<path d="M44.5 156.0L44.5 179.5L46.4 179.5L52.9 184.1L59.2 187.2L68.6 194.9L77.1 200.4L66.9 205.9L52.9 214.1L55.9 229.6L51.3 245.2L46.4 267.0L44.5 270.1L148.4 270.1L148.4 156.0Z" fill="#8F0DA4"/>
<path d="M44.5 156.0L44.5 165.4L46.4 165.4L52.9 171.5L60.6 183.3L74.7 188.8L82.6 198.2L86.5 201.3L77.9 205.9L63.9 214.1L74.7 229.6L65.3 240.6L59.2 251.6L49.8 267.0L48.6 270.1L148.4 270.1L148.4 156.0Z" fill="#B12A90"/>
<path d="M54.9 156.0L54.9 158.9L59.8 165.4L66.9 174.0L77.1 180.5L84.0 189.0L90.4 196.6L93.4 204.9L101.6 212.0L103.6 220.2L108.1 230.0L104.6 241.6L100.5 249.7L97.1 240.6L93.4 242.0L82.6 253.0L71.6 251.6L63.9 254.6L59.2 260.9L52.9 267.8L51.7 270.1L148.4 270.1L148.4 156.0Z" fill="#CC4778"/>
<path d="M90.4 196.6L89.5 199.0L83.4 207.2L76.7 210.6L80.8 220.8L87.5 224.9L97.1 226.3L101.2 219.6L102.6 210.0L97.1 203.1Z" fill="#CC4778"/>
<path d="M67.3 156.0L67.3 158.9L73.0 163.8L80.2 170.3L87.7 176.4L94.4 186.6L98.5 193.9L105.6 192.7L115.0 195.8L124.0 202.5L112.0 206.3L104.2 211.0L102.6 221.2L107.7 227.3L110.7 239.7L108.7 249.7L105.6 259.9L106.7 270.1L148.4 270.1L148.4 156.0Z" fill="#E16462"/>
<path d="M60.8 270.1L62.9 263.0L73.0 265.0L75.1 270.1Z" fill="#E16462"/>
<path d="M94.0 212.5L97.1 207.8L100.3 212.0L97.5 217.1Z" fill="#E16462"/>
<path d="M83.2 156.0L83.2 158.9L87.3 165.0L93.8 177.2L99.9 186.8L105.4 183.7L124.6 188.4L136.8 193.5L148.4 194.9L148.4 156.0Z" fill="#F2844B"/>
<path d="M148.4 201.3L136.8 199.6L128.0 204.1L121.3 207.8L113.6 225.1L129.1 231.4L128.0 239.7L124.0 249.9L126.0 270.1L148.4 270.1Z" fill="#F2844B"/>
<path d="M94.6 156.0L94.6 158.9L96.3 165.0L99.9 176.8L105.4 178.0L124.6 183.3L134.1 186.0L148.4 187.6L148.4 156.0Z" fill="#FCA636"/>
<path d="M104.4 156.0L104.4 158.9L111.7 166.2L124.6 173.1L134.1 177.2L148.4 178.0L148.4 156.0Z" fill="#FCCE25"/>
<path d="M145.4 158.9L146.6 158.9L146.6 160.1Z" fill="#F0F921"/>
<path d="M44.5 189.6L46.4 189.6L52.9 194.3L63.9 201.3L52.9 205.9L46.4 208.4L44.5 208.4Z" fill="#41049D"/>
<path d="M44.5 192.7L46.4 192.7L52.1 197.4L46.4 202.9L44.5 202.9Z" fill="#0D0887"/>
<path d="M82.2 231.4L85.1 230.2L87.7 231.6L85.1 233.4Z" fill="#8F0DA4"/>
<path d="M97.9 232.4L100.7 228.9L103.4 232.4L100.7 237.5Z" fill="#8F0DA4"/>
<path d="M95.9 249.7L96.9 247.7L98.1 250.1L97.1 261.9Z" fill="#E16462"/>
<path d="M99.5 251.8L101.6 249.7L103.0 252.2L102.0 268.5Z" fill="#B12A90"/>
</g>
<rect x="41.50" y="153.60" width="109.90" height="120.00" fill="none" stroke="#2B2B2B" stroke-width="1"/>
<rect x="151.40" y="153.60" width="20.10" height="120.00" fill="#D9D9D9" stroke="#2B2B2B" stroke-width="1"/>
<text transform="translate(158.05,213.70) rotate(90)" font-size="10.6" fill="#1A1A1A" text-anchor="middle">ML 'on'</text>
<path d="M38.20 158.90H41.50" stroke="#2B2B2B" stroke-width="1.15"/>
<text x="35.90" y="162.30" font-size="10.6" fill="#474747" text-anchor="end">15</text>
<path d="M38.20 169.85H41.50" stroke="#2B2B2B" stroke-width="1.15"/>
<text x="35.90" y="173.25" font-size="10.6" fill="#474747" text-anchor="end">12</text>
<path d="M38.20 180.80H41.50" stroke="#2B2B2B" stroke-width="1.15"/>
<text x="35.90" y="184.20" font-size="10.6" fill="#474747" text-anchor="end">9</text>
<path d="M38.20 191.75H41.50" stroke="#2B2B2B" stroke-width="1.15"/>
<text x="35.90" y="195.15" font-size="10.6" fill="#474747" text-anchor="end">6</text>
<path d="M38.20 202.70H41.50" stroke="#2B2B2B" stroke-width="1.15"/>
<text x="35.90" y="206.10" font-size="10.6" fill="#474747" text-anchor="end">3</text>
<path d="M38.20 213.65H41.50" stroke="#2B2B2B" stroke-width="1.15"/>
<text x="35.90" y="217.05" font-size="10.6" fill="#474747" text-anchor="end">0</text>
<path d="M38.20 224.60H41.50" stroke="#2B2B2B" stroke-width="1.15"/>
<text x="35.90" y="228.00" font-size="10.6" fill="#474747" text-anchor="end">−3</text>
<path d="M38.20 235.55H41.50" stroke="#2B2B2B" stroke-width="1.15"/>
<text x="35.90" y="238.95" font-size="10.6" fill="#474747" text-anchor="end">−6</text>
<path d="M38.20 246.50H41.50" stroke="#2B2B2B" stroke-width="1.15"/>
<text x="35.90" y="249.90" font-size="10.6" fill="#474747" text-anchor="end">−9</text>
<path d="M38.20 257.45H41.50" stroke="#2B2B2B" stroke-width="1.15"/>
<text x="35.90" y="260.85" font-size="10.6" fill="#474747" text-anchor="end">−12</text>
<path d="M38.20 268.40H41.50" stroke="#2B2B2B" stroke-width="1.15"/>
<text x="35.90" y="271.80" font-size="10.6" fill="#474747" text-anchor="end">−15</text>
<path d="M46.20 273.60V277.10" stroke="#2B2B2B" stroke-width="1.15"/>
<text transform="translate(49.60,279.80) rotate(-90)" font-size="10.6" fill="#474747" text-anchor="end">−15</text>
<path d="M56.21 273.60V277.10" stroke="#2B2B2B" stroke-width="1.15"/>
<text transform="translate(59.61,279.80) rotate(-90)" font-size="10.6" fill="#474747" text-anchor="end">−12</text>
<path d="M66.22 273.60V277.10" stroke="#2B2B2B" stroke-width="1.15"/>
<text transform="translate(69.62,279.80) rotate(-90)" font-size="10.6" fill="#474747" text-anchor="end">−9</text>
<path d="M76.23 273.60V277.10" stroke="#2B2B2B" stroke-width="1.15"/>
<text transform="translate(79.63,279.80) rotate(-90)" font-size="10.6" fill="#474747" text-anchor="end">−6</text>
<path d="M86.24 273.60V277.10" stroke="#2B2B2B" stroke-width="1.15"/>
<text transform="translate(89.64,279.80) rotate(-90)" font-size="10.6" fill="#474747" text-anchor="end">−3</text>
<path d="M96.25 273.60V277.10" stroke="#2B2B2B" stroke-width="1.15"/>
<text transform="translate(99.65,279.80) rotate(-90)" font-size="10.6" fill="#474747" text-anchor="end">0</text>
<path d="M106.26 273.60V277.10" stroke="#2B2B2B" stroke-width="1.15"/>
<text transform="translate(109.66,279.80) rotate(-90)" font-size="10.6" fill="#474747" text-anchor="end">3</text>
<path d="M116.27 273.60V277.10" stroke="#2B2B2B" stroke-width="1.15"/>
<text transform="translate(119.67,279.80) rotate(-90)" font-size="10.6" fill="#474747" text-anchor="end">6</text>
<path d="M126.28 273.60V277.10" stroke="#2B2B2B" stroke-width="1.15"/>
<text transform="translate(129.68,279.80) rotate(-90)" font-size="10.6" fill="#474747" text-anchor="end">9</text>
<path d="M136.29 273.60V277.10" stroke="#2B2B2B" stroke-width="1.15"/>
<text transform="translate(139.69,279.80) rotate(-90)" font-size="10.6" fill="#474747" text-anchor="end">12</text>
<path d="M146.30 273.60V277.10" stroke="#2B2B2B" stroke-width="1.15"/>
<text transform="translate(149.70,279.80) rotate(-90)" font-size="10.6" fill="#474747" text-anchor="end">15</text>
<text x="96.85" y="308.50" font-size="12.7" fill="#000" text-anchor="middle"><tspan font-family="'Liberation Serif', serif">Δ</tspan> corruption</text>
<text transform="translate(13.20,150.10) rotate(-90)" font-size="12.7" fill="#000" text-anchor="middle"><tspan font-family="'Liberation Serif', serif">Δ</tspan> insecurity</text>
<rect x="11.80" y="333.0" width="165.80" height="16.5" fill="url(#pl)"/>
<path d="M19.40 333V336.3M19.40 346.2V349.5" stroke="#fff" stroke-width="0.9"/>
<text x="19.90" y="365.2" font-size="10.6" fill="#000" text-anchor="middle">37</text>
<path d="M53.20 333V336.3M53.20 346.2V349.5" stroke="#fff" stroke-width="0.9"/>
<text x="53.70" y="365.2" font-size="10.6" fill="#000" text-anchor="middle">38</text>
<path d="M87.10 333V336.3M87.10 346.2V349.5" stroke="#fff" stroke-width="0.9"/>
<text x="87.60" y="365.2" font-size="10.6" fill="#000" text-anchor="middle">39</text>
<path d="M120.90 333V336.3M120.90 346.2V349.5" stroke="#fff" stroke-width="0.9"/>
<text x="121.40" y="365.2" font-size="10.6" fill="#000" text-anchor="middle">40</text>
<path d="M154.10 333V336.3M154.10 346.2V349.5" stroke="#fff" stroke-width="0.9"/>
<text x="154.60" y="365.2" font-size="10.6" fill="#000" text-anchor="middle">41</text>
</g>
</svg>
</body></html>
